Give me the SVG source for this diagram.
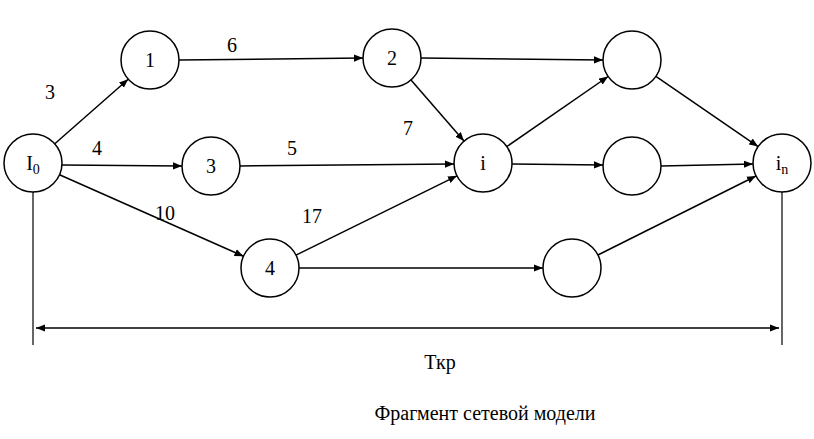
<svg xmlns="http://www.w3.org/2000/svg" width="814" height="439" viewBox="0 0 814 439" font-family="'Liberation Serif','DejaVu Serif',serif">
<style>
.n{fill:#fff;stroke:#000;stroke-width:1.5}
.e{stroke:#000;stroke-width:1.5;fill:none;marker-end:url(#a)}
.l{stroke:#000;stroke-width:1.2;fill:none}
text{font-family:'Liberation Serif','DejaVu Serif',serif;font-size:20px;fill:#000}
.c{text-anchor:middle}
</style>
<defs>
<marker id="a" viewBox="0 0 10 10" refX="10" refY="5" markerWidth="9" markerHeight="9" markerUnits="userSpaceOnUse" orient="auto-start-reverse"><path d="M0,1 L10,5 L0,9 z" fill="#000"/></marker>
</defs>
<rect width="814" height="439" fill="#fff"/>
<g id="connectors">
<line class="e" x1="54.8" y1="143.8" x2="128.2" y2="79.2"/>
<line class="e" x1="179" y1="60" x2="363" y2="58"/>
<line class="e" x1="421" y1="58" x2="603" y2="60"/>
<line class="e" x1="655.9" y1="76.4" x2="758.1" y2="146.6"/>
<line class="e" x1="411" y1="79.9" x2="464" y2="141.1"/>
<line class="e" x1="506.9" y1="146.5" x2="608.1" y2="76.5"/>
<line class="e" x1="62" y1="165" x2="182" y2="166"/>
<line class="e" x1="240" y1="166" x2="454" y2="164"/>
<line class="e" x1="512" y1="164" x2="603" y2="165"/>
<line class="e" x1="661" y1="166" x2="753" y2="164"/>
<line class="e" x1="59.5" y1="174.7" x2="243.5" y2="256.3"/>
<line class="e" x1="296" y1="255.2" x2="457" y2="175.8"/>
<line class="e" x1="299" y1="268" x2="543" y2="268"/>
<line class="e" x1="597.9" y1="255" x2="756" y2="176"/>
<line class="l" x1="33" y1="192" x2="33" y2="345"/>
<line class="l" x1="782" y1="192" x2="782" y2="345"/>
<line class="e" x1="36" y1="328" x2="779" y2="328" style="marker-start:url(#a)"/>
<text x="50" y="99" class="c">3</text>
<text x="232" y="52" class="c">6</text>
<text x="408" y="135" class="c">7</text>
<text x="97" y="155" class="c">4</text>
<text x="292" y="155" class="c">5</text>
<text x="165" y="220" class="c">10</text>
<text x="312" y="223" class="c">17</text>
<text x="440" y="369" class="c">Ткр</text>
<text x="485" y="420" class="c">Фрагмент сетевой модели</text>
</g>
<g id="n-I0"><circle class="n" cx="33" cy="163" r="29"/><text x="33" y="170" class="c">I<tspan font-size="14" dy="4">0</tspan></text></g>
<g id="n-1"><circle class="n" cx="150" cy="60" r="29"/><text x="150" y="67" class="c">1</text></g>
<g id="n-2"><circle class="n" cx="392" cy="58" r="29"/><text x="392" y="65" class="c">2</text></g>
<g id="n-3"><circle class="n" cx="211" cy="166" r="29"/><text x="211" y="173" class="c">3</text></g>
<g id="n-i"><circle class="n" cx="483" cy="163" r="29"/><text x="483" y="170" class="c">i</text></g>
<g id="n-t"><circle class="n" cx="632" cy="60" r="29"/></g>
<g id="n-m"><circle class="n" cx="632" cy="166" r="29"/></g>
<g id="n-in"><circle class="n" cx="782" cy="163" r="29"/><text x="782" y="170" class="c">i<tspan font-size="14" dy="4">n</tspan></text></g>
<g id="n-4"><circle class="n" cx="270" cy="268" r="29"/><text x="270" y="275" class="c">4</text></g>
<g id="n-b"><circle class="n" cx="572" cy="268" r="29"/></g>
</svg>
